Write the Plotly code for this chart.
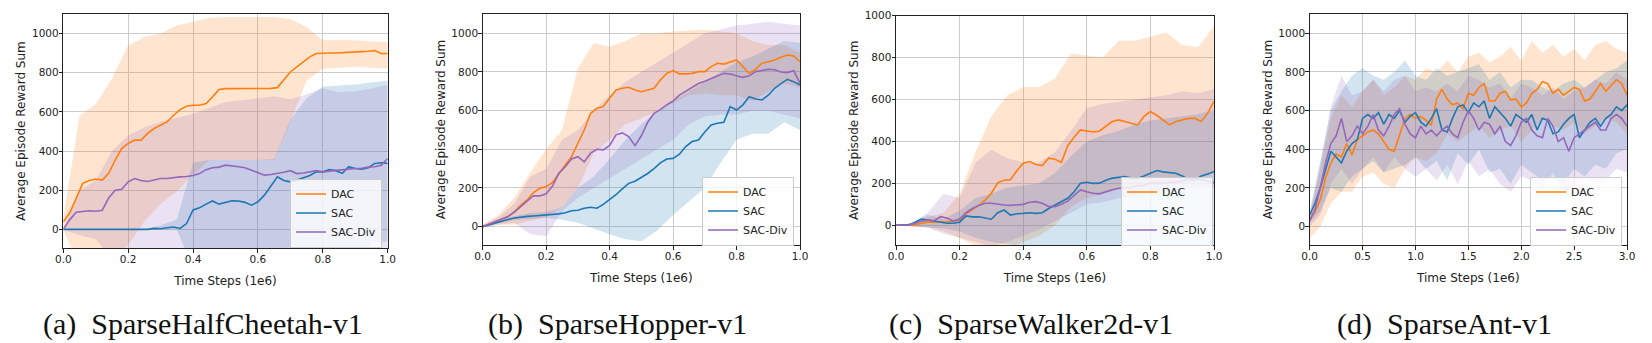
import plotly.graph_objects as go

# ---------------- DATA ----------------
# panels a-c: means on x grid step 0.02 (1e6 steps), bands on grid step 0.05
x_mean_1m = [i * 0.02 for i in range(51)]
x_band_1m = [i * 0.05 for i in range(21)]
# panel d: means on grid step 0.05, bands on grid step 0.1
x_mean_3m = [i * 0.05 for i in range(61)]
x_band_3m = [i * 0.1 for i in range(31)]

# (a) SparseHalfCheetah-v1
a_dac = [39, 85, 160, 235, 250, 257, 252, 286, 354, 413, 439, 456, 456, 490, 515, 532, 549, 583, 612, 629,
         634, 634, 643, 677, 714, 719, 719, 719, 719, 719, 719, 719, 720, 724, 762, 804, 830, 855, 881, 898,
         901, 901, 901, 902, 903, 906, 908, 910, 913, 898, 898]
a_sac = [0, 0, 0, 0, 0, 0, 0, 0, 0, 0, 0, 0, 0, 0, 5, 3, 8, 12, 5, 30,
         99, 110, 129, 145, 129, 138, 146, 145, 138, 124, 141, 175, 220, 269, 250, 243, 252, 262, 275, 294,
         294, 305, 300, 286, 320, 311, 308, 315, 337, 340, 337]
a_div = [0, 50, 88, 92, 95, 93, 98, 160, 200, 205, 243, 260, 250, 245, 252, 260, 260, 265, 268, 270,
         275, 285, 305, 315, 318, 328, 325, 320, 315, 303, 290, 277, 280, 285, 292, 300, 285, 288, 294, 300,
         294, 298, 303, 305, 308, 311, 312, 318, 320, 328, 362]
a_dac_hi = [60, 580, 640, 770, 940, 983, 1000, 1043, 1060, 1080, 1085, 1085, 1085, 1085, 1075, 1034, 966, 966, 966, 960, 957]
a_dac_lo = [0, -200, -200, -150, -80, 40, 130, 195, 280, 354, 354, 354, 354, 354, 550, 760, 820, 825, 830, 825, 820]
a_sac_hi = [0, 0, 0, 0, 0, 0, 20, 50, 340, 354, 354, 354, 354, 360, 560, 670, 728, 735, 740, 750, 760]
a_sac_lo = [0, 0, 0, 0, 0, 0, 0, 0, -200, -200, -200, -200, -200, -200, -200, -200, -200, -200, -200, -70, -60]
a_div_hi = [0, 200, 250, 400, 480, 520, 550, 570, 590, 620, 650, 660, 670, 680, 665, 690, 720, 700, 705, 720, 740]
a_div_lo = [0, -30, -50, -150, -200, -200, -200, -200, -200, -200, -200, -200, -200, -200, -200, -200, -150, -130, -120, -110, -100]

# (b) SparseHopper-v1
b_dac = [0, 12, 25, 38, 52, 78, 112, 138, 176, 198, 207, 228, 276, 319, 362, 431, 500, 586, 612, 621,
         664, 707, 716, 721, 707, 698, 707, 716, 759, 793, 807, 790, 790, 793, 802, 802, 828, 845, 841, 853,
         862, 828, 793, 814, 845, 853, 862, 876, 888, 883, 853]
b_sac = [0, 10, 20, 28, 37, 45, 50, 53, 55, 57, 60, 62, 66, 72, 82, 85, 95, 100, 95, 115,
         138, 165, 195, 224, 235, 255, 275, 300, 330, 350, 353, 375, 414, 440, 448, 490, 526, 535, 540, 621,
         603, 630, 672, 660, 655, 680, 716, 740, 762, 750, 733]
b_div = [0, 12, 25, 38, 52, 75, 105, 130, 160, 159, 170, 210, 276, 310, 350, 362, 335, 380, 400, 397,
         420, 475, 485, 466, 419, 470, 540, 586, 605, 630, 650, 680, 700, 722, 740, 752, 767, 780, 793, 790,
         780, 772, 780, 802, 808, 814, 812, 800, 797, 807, 741]
b_dac_hi = [10, 60, 150, 280, 400, 500, 820, 950, 930, 960, 1000, 1000, 1010, 1015, 1020, 1010, 1000, 960, 940, 940, 900]
b_dac_lo = [-5, 10, 10, 30, 50, 100, 200, 380, 450, 530, 560, 600, 640, 680, 690, 680, 680, 650, 700, 740, 720]
b_sac_hi = [0, 30, 55, 70, 75, 100, 200, 260, 350, 450, 530, 600, 650, 700, 750, 800, 850, 880, 920, 960, 950]
b_sac_lo = [0, 20, 35, 40, 45, 35, 20, -10, -40, -65, -75, -20, 60, 130, 200, 330, 450, 480, 480, 540, 500]
b_div_hi = [10, 50, 120, 260, 300, 450, 500, 600, 680, 750, 800, 850, 900, 950, 1000, 1020, 1040, 1050, 1060, 1050, 1040]
b_div_lo = [0, 10, 20, -40, -50, 80, 150, 200, 250, 300, 350, 400, 450, 530, 570, 580, 580, 600, 600, 580, 560]

# (c) SparseWalker2d-v1
c_dac = [0, 0, 0, 3, 10, 15, 15, 18, 15, 20, 25, 55, 75, 95, 120, 153, 204, 215, 217, 260,
         296, 304, 290, 285, 320, 315, 300, 380, 420, 455, 450, 445, 450, 471, 495, 503, 495, 490, 479, 520,
         543, 525, 500, 479, 495, 503, 510, 511, 495, 535, 591]
c_sac = [0, 0, 2, 15, 30, 25, 20, 15, 10, 10, 15, 45, 40, 41, 35, 29, 60, 73, 49, 55,
         57, 60, 57, 60, 80, 97, 110, 129, 160, 201, 205, 200, 201, 215, 225, 228, 232, 225, 225, 235,
         248, 261, 255, 250, 248, 235, 220, 217, 235, 245, 256]
c_div = [0, 0, 2, 10, 20, 25, 22, 41, 35, 20, 30, 60, 80, 95, 105, 105, 100, 97, 95, 97,
         100, 110, 113, 105, 90, 89, 100, 115, 140, 169, 160, 153, 150, 161, 170, 177, 177, 180, 190, 190,
         201, 200, 200, 205, 207, 210, 222, 225, 218, 210, 204]
c_dac_hi = [0, 10, 40, 60, 150, 350, 520, 620, 660, 660, 700, 820, 810, 800, 880, 880, 900, 920, 860, 850, 950]
c_dac_lo = [0, -5, -10, -30, -60, -100, -130, -110, -80, -50, 0, 90, 130, 150, 170, 190, 200, 195, 200, 210, 250]
c_sac_hi = [0, 10, 50, 30, 70, 130, 150, 180, 190, 200, 250, 330, 400, 430, 450, 480, 500, 510, 520, 530, 550]
c_sac_lo = [0, -5, -10, -15, -30, -60, -80, -90, -100, -200, -250, -250, -250, -250, -250, -250, -250, -250, -250, -250, -250]
c_div_hi = [0, 10, 60, 150, 130, 300, 360, 320, 300, 300, 350, 450, 560, 580, 590, 600, 610, 620, 640, 630, 650]
c_div_lo = [0, -5, -10, -40, -60, -80, -100, -80, -50, -20, 20, 60, 100, 110, 130, 140, 150, 160, 170, 175, 180]

# (d) SparseAnt-v1
d_dac = [40, 75, 140, 250, 330, 375, 360, 430, 370, 450, 470, 490, 500, 480, 440, 400, 390, 470, 560, 580,
         560, 570, 550, 525, 660, 710, 660, 630, 640, 610, 690, 680, 720, 740, 650, 650, 690, 700, 655, 660,
         620, 640, 690, 710, 750, 740, 690, 710, 680, 700, 720, 710, 650, 660, 700, 740, 700, 730, 760, 740, 680]
d_sac = [60, 120, 200, 300, 390, 360, 330, 390, 430, 450, 560, 580, 560, 590, 530, 580, 560, 600, 540, 570,
         590, 540, 520, 560, 610, 500, 490, 560, 620, 630, 590, 640, 620, 650, 560, 620, 590, 560, 520, 580,
         560, 540, 580, 500, 560, 550, 480, 490, 530, 560, 580, 460, 500, 540, 560, 520, 560, 580, 620, 600, 630]
d_div = [30, 90, 200, 330, 430, 470, 560, 440, 470, 520, 480, 520, 580, 500, 470, 520, 580, 610, 530, 480,
         460, 520, 480, 500, 470, 500, 520, 480, 460, 540, 600, 560, 500, 540, 530, 480, 520, 440, 420, 470,
         540, 560, 500, 470, 460, 560, 520, 440, 460, 390, 460, 480, 500, 520, 540, 500, 500, 560, 580, 560, 520]
d_dac_hi = [60, 300, 560, 680, 620, 700, 760, 680, 720, 780, 760, 820, 800, 860, 800, 880, 900, 850, 880, 930,
            860, 960, 900, 940, 880, 920, 860, 940, 960, 920, 900]
d_dac_lo = [-60, 0, 120, 180, 180, 260, 280, 220, 200, 300, 360, 340, 380, 480, 440, 480, 520, 460, 500, 520,
            440, 500, 560, 520, 500, 540, 480, 520, 560, 540, 480]
d_sac_hi = [80, 340, 600, 700, 780, 820, 780, 760, 800, 860, 780, 760, 820, 780, 800, 820, 840, 760, 800, 720,
            760, 760, 720, 700, 740, 760, 720, 760, 800, 820, 860]
d_sac_lo = [20, 80, 200, 180, 260, 300, 340, 280, 300, 320, 360, 300, 340, 240, 380, 320, 400, 280, 300, 220,
            320, 280, 240, 260, 220, 300, 260, 320, 300, 380, 400]
d_div_hi = [60, 320, 620, 780, 680, 700, 760, 700, 760, 780, 700, 720, 700, 740, 700, 780, 760, 720, 740, 660,
            740, 720, 680, 720, 660, 700, 720, 760, 740, 800, 760]
d_div_lo = [0, 60, 220, 300, 220, 300, 360, 280, 360, 300, 260, 300, 240, 320, 220, 340, 260, 300, 220, 180,
            260, 240, 200, 280, 160, 220, 260, 220, 240, 300, 280]

series_names = ["DAC", "SAC", "SAC-Div"]
captions = ["(a)\u00a0\u00a0SparseHalfCheetah-v1", "(b)\u00a0\u00a0SparseHopper-v1",
            "(c)\u00a0\u00a0SparseWalker2d-v1", "(d)\u00a0\u00a0SparseAnt-v1"]
y_ticks = [0, 200, 400, 600, 800, 1000]
x_ticks_1m = [0.0, 0.2, 0.4, 0.6, 0.8, 1.0]
x_ticks_3m = [0.0, 0.5, 1.0, 1.5, 2.0, 2.5, 3.0]

# ---------------- STYLE ----------------
line_colors = ["#ff7f0e", "#1f77b4", "#9467bd"]
fill_colors = ["rgba(255,127,14,0.2)", "rgba(31,119,180,0.2)", "rgba(148,103,189,0.2)"]
W, H = 1652, 343
# axes boxes in pixels: left, right, top, bottom
boxes = [(63.3, 387.7, 14, 248), (482.7, 800, 14, 245), (896, 1214, 15.7, 245), (1309.7, 1627, 14, 245)]
y_ranges = [[-95, 1100], [-95, 1100], [-94, 1000], [-95, 1100]]
legend_pos = [(382, 213), (794, 211), (1213, 211), (1622, 211)]
caption_x = [203, 617, 1031, 1444]

panels = [
    (x_mean_1m, x_band_1m, [a_dac, a_sac, a_div], [(a_dac_lo, a_dac_hi), (a_sac_lo, a_sac_hi), (a_div_lo, a_div_hi)], x_ticks_1m, [0, 1]),
    (x_mean_1m, x_band_1m, [b_dac, b_sac, b_div], [(b_dac_lo, b_dac_hi), (b_sac_lo, b_sac_hi), (b_div_lo, b_div_hi)], x_ticks_1m, [0, 1]),
    (x_mean_1m, x_band_1m, [c_dac, c_sac, c_div], [(c_dac_lo, c_dac_hi), (c_sac_lo, c_sac_hi), (c_div_lo, c_div_hi)], x_ticks_1m, [0, 1]),
    (x_mean_3m, x_band_3m, [d_dac, d_sac, d_div], [(d_dac_lo, d_dac_hi), (d_sac_lo, d_sac_hi), (d_div_lo, d_div_hi)], x_ticks_3m, [0, 3]),
]

fig = go.Figure()
layout = {}
for p, (xm, xb, means, bands, xt, xr) in enumerate(panels):
    n = "" if p == 0 else str(p + 1)
    xa, ya = "x" + n, "y" + n
    leg = "legend" + n
    for k in range(3):
        lo, hi = bands[k]
        fig.add_trace(go.Scatter(x=list(xb) + list(xb)[::-1], y=list(hi) + list(lo)[::-1],
                                 fill="toself", fillcolor=fill_colors[k], mode="lines",
                                 line=dict(width=0), hoverinfo="skip", showlegend=False,
                                 xaxis=xa, yaxis=ya))
    for k in range(3):
        fig.add_trace(go.Scatter(x=xm, y=means[k], mode="lines", name=series_names[k],
                                 line=dict(color=line_colors[k], width=1.6),
                                 showlegend=True, legend=leg, xaxis=xa, yaxis=ya))
    l, r, t, b = boxes[p]
    axis_common = dict(showline=True, mirror=True, linecolor="#222", linewidth=1,
                       showgrid=True, gridcolor="#cccccc", gridwidth=1, zeroline=False,
                       ticks="outside", ticklen=3.5, tickcolor="#222", automargin=False,
                       tickfont=dict(family="DejaVu Sans", size=10.5, color="#222"))
    layout["xaxis" + n] = dict(domain=[l / W, r / W], anchor=ya, range=xr,
                               tickvals=xt, tickformat=".1f", ticklabelstandoff=-2,
                               title=dict(text="Time Steps (1e6)", font=dict(family="DejaVu Sans", size=12, color="#222"), standoff=12),
                               **axis_common)
    layout["yaxis" + n] = dict(domain=[1 - b / H, 1 - t / H], anchor=xa, range=y_ranges[p],
                               tickvals=y_ticks, ticklabelstandoff=-2,
                               title=dict(text="Average Episode Reward Sum", font=dict(family="DejaVu Sans", size=12, color="#222"), standoff=3),
                               **axis_common)
    lx, ly = legend_pos[p]
    layout[leg] = dict(x=lx / W, y=1 - ly / H, xanchor="right", yanchor="middle",
                       bgcolor="rgba(255,255,255,0.8)", bordercolor="#cccccc", borderwidth=1,
                       font=dict(family="DejaVu Sans", size=11, color="#222"),
                       itemwidth=30, tracegroupgap=0)

annotations = []
for p in range(4):
    annotations.append(dict(text=captions[p], x=caption_x[p] / W, y=1 - 324 / H, xref="paper", yref="paper",
                            xanchor="center", yanchor="middle", showarrow=False,
                            font=dict(family="Liberation Serif", size=30, color="#111")))

fig.update_layout(width=W, height=H, margin=dict(l=0, r=0, t=0, b=0, autoexpand=False),
                  paper_bgcolor="white", plot_bgcolor="white", annotations=annotations,
                  **layout)
fig.write_html("out.html", config={"displayModeBar": False},
               post_script="document.body.style.margin='0';")
